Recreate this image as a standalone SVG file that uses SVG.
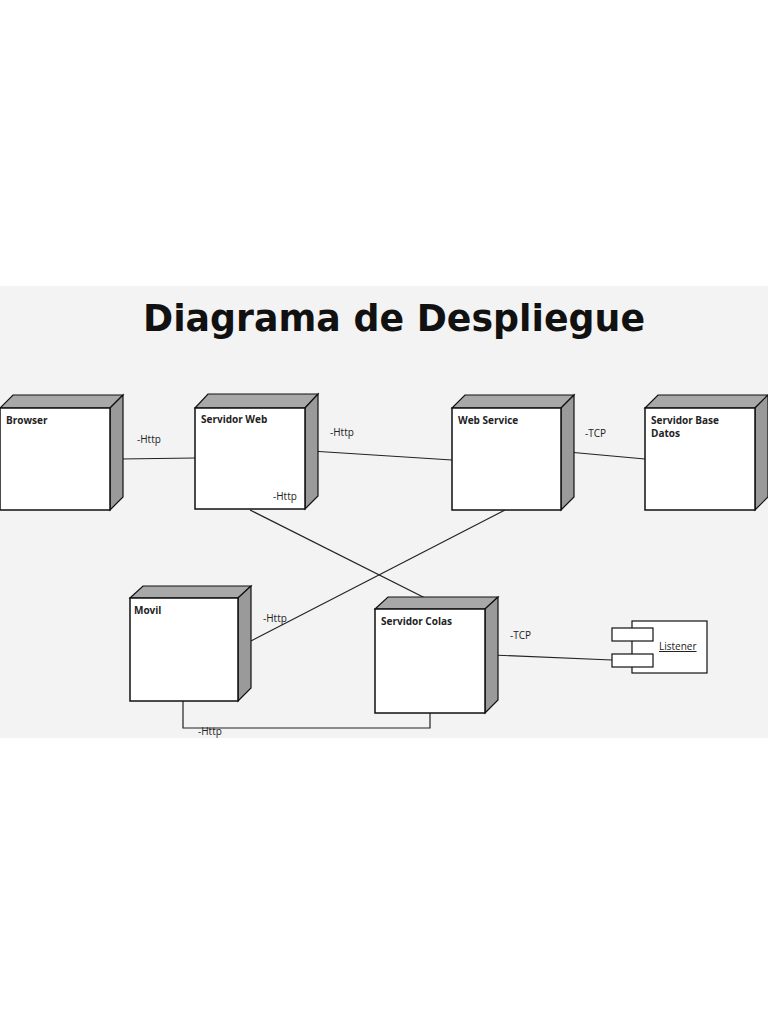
<svg xmlns="http://www.w3.org/2000/svg" width="768" height="1024" viewBox="0 0 768 1024">
<style>
.front{fill:#fff;stroke:#111;stroke-width:1.5}
.side{fill:#9a9a9a;stroke:#111;stroke-width:1.2}
.top{fill:#a8a8a8;stroke:#111;stroke-width:1.2}
.lbl{font-family:"Open Sans","Liberation Sans",sans-serif;font-size:10px;fill:#222}
.name{font-family:"Open Sans","Liberation Sans",sans-serif;font-size:10px;font-weight:bold;fill:#222}
.conn line,.conn polyline{stroke:#222;stroke-width:1.2;fill:none}
</style>
<rect width="768" height="1024" fill="#fff"/>
<rect x="0" y="286" width="768" height="452" fill="#f3f3f3"/>
<text x="394" y="331" text-anchor="middle" font-family="'DejaVu Sans',sans-serif" font-weight="bold" font-size="38" textLength="502" lengthAdjust="spacingAndGlyphs" fill="#111">Diagrama de Despliegue</text>
<g class="conn" id="connectors">
<line x1="120" y1="459" x2="195" y2="458"/>
<line x1="311" y1="451" x2="452" y2="460"/>
<line x1="568" y1="452" x2="645" y2="459"/>
<line x1="250" y1="510" x2="437" y2="604"/>
<line x1="505" y1="510" x2="245" y2="644"/>
<line x1="492" y1="655" x2="612" y2="660"/>
<polyline points="183,701 183,728 430,728 430,713"/>
</g>
<g id="browser"><polygon class="top" points="0,408 13,395 123,395 110,408"/><polygon class="side" points="110,408 123,395 123,497 110,510"/><rect class="front" x="0" y="408" width="110" height="102"/><text class="name" x="6" y="424">Browser</text></g>
<g id="servidor-web"><polygon class="top" points="195,408 208,394 318,394 305,408"/><polygon class="side" points="305,408 318,394 318,496 305,509"/><rect class="front" x="195" y="408" width="110" height="101"/><text class="name" x="201" y="423">Servidor Web</text></g>
<g id="web-service"><polygon class="top" points="452,408 465,395 574,395 561,408"/><polygon class="side" points="561,408 574,395 574,497 561,510"/><rect class="front" x="452" y="408" width="109" height="102"/><text class="name" x="458" y="424">Web Service</text></g>
<g id="servidor-bd"><polygon class="top" points="645,408 658,395 768,395 755,408"/><polygon class="side" points="755,408 768,395 768,497 755,510"/><rect class="front" x="645" y="408" width="110" height="102"/><text class="name" x="651" y="424">Servidor Base</text><text class="name" x="651" y="437">Datos</text></g>
<g id="movil"><polygon class="top" points="130,598 143,586 251,586 238,598"/><polygon class="side" points="238,598 251,586 251,688 238,701"/><rect class="front" x="130" y="598" width="108" height="103"/><text class="name" x="134" y="614">Movil</text></g>
<g id="servidor-colas"><polygon class="top" points="375,609 388,597 498,597 485,609"/><polygon class="side" points="485,609 498,597 498,700 485,713"/><rect class="front" x="375" y="609" width="110" height="104"/><text class="name" x="381" y="625">Servidor Colas</text></g>
<g id="listener"><rect x="632" y="621" width="75" height="52" fill="#fff" stroke="#111" stroke-width="1.2"/><rect x="612" y="628" width="41" height="13" fill="#fff" stroke="#111" stroke-width="1.2"/><rect x="612" y="654" width="41" height="13" fill="#fff" stroke="#111" stroke-width="1.2"/><text class="lbl" x="659" y="650" text-decoration="underline">Listener</text></g>
<g id="labels">
<text class="lbl" x="137" y="443">-Http</text>
<text class="lbl" x="330" y="436">-Http</text>
<text class="lbl" x="585" y="437">-TCP</text>
<text class="lbl" x="273" y="500">-Http</text>
<text class="lbl" x="263" y="622">-Http</text>
<text class="lbl" x="510" y="639">-TCP</text>
<text class="lbl" x="198" y="735">-Http</text>
</g>
</svg>
